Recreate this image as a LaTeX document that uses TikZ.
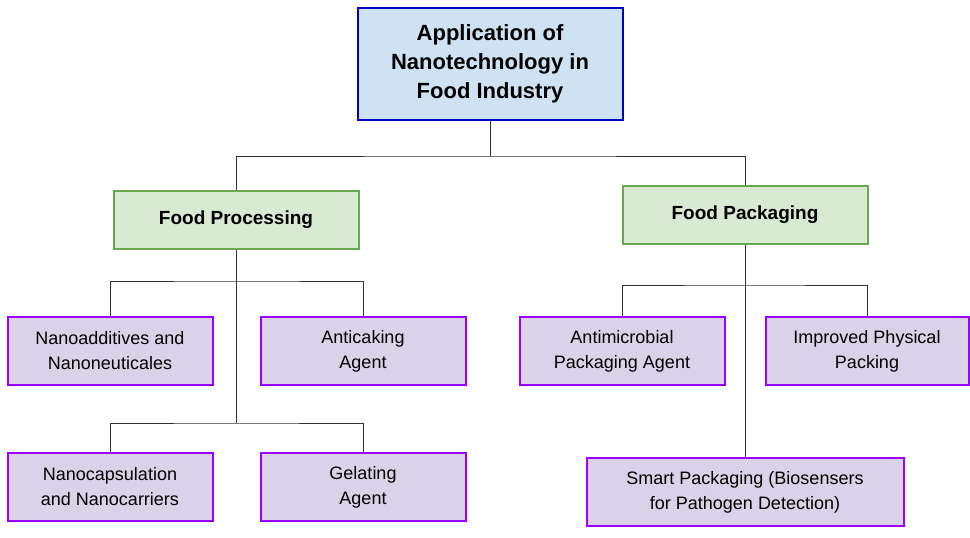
\documentclass[tikz,border=0pt]{standalone}
\usepackage{fontspec}
\setmainfont{Liberation Sans}
\usetikzlibrary{positioning, calc}

\definecolor{rootfill}{HTML}{CFE2F3}
\definecolor{rootdraw}{HTML}{0000CC}
\definecolor{midfill}{HTML}{D9EAD3}
\definecolor{middraw}{HTML}{6AA84F}
\definecolor{leaffill}{HTML}{D9D2E9}
\definecolor{leafdraw}{HTML}{9900FF}

\begin{document}
\begin{tikzpicture}[
    x=1pt, y=-1pt,
    root/.style={rectangle, draw=rootdraw, fill=rootfill, line width=2pt, minimum width=265pt, minimum height=112pt, align=center, font=\fontsize{22}{29}\selectfont\bfseries},
    mid/.style={rectangle, draw=middraw, fill=midfill, line width=2pt, minimum width=245pt, minimum height=58pt, align=center, font=\fontsize{19}{23}\selectfont\bfseries},
    leaf/.style={rectangle, draw=leafdraw, fill=leaffill, line width=2pt, minimum width=205pt, minimum height=68pt, align=center, font=\fontsize{18}{25}\selectfont},
    link/.style={draw=black!80, line width=0.8pt},
]
\useasboundingbox (0,0) rectangle (970,538);

% Nodes
\node [root] (app) at (490,64) {Application of\\Nanotechnology in\\Food Industry};
\node [mid] (proc) at (236,220) {Food Processing};
\node [mid] (pack) at (745,215) {Food Packaging};
\node [leaf] (nanoadd) at (110,351) {Nanoadditives and\\Nanoneuticales};
\node [leaf] (antick) at (363,351) {Anticaking\\Agent};
\node [leaf] (nanocap) at (110,487) {Nanocapsulation\\and Nanocarriers};
\node [leaf] (gel) at (363,487) {Gelating\\Agent};
\node [leaf] (antimic) at (622,351) {Antimicrobial\\Packaging Agent};
\node [leaf, minimum width=203pt] (improved) at (867,351) {Improved Physical\\Packing};
\node [leaf, minimum width=317pt] (smart) at (745,492) {Smart Packaging (Biosensers\\for Pathogen Detection)};

\coordinate (split1) at (490,156);
\coordinate (split2) at (236,281);
\coordinate (split3) at (236,423);
\coordinate (split4) at (745,285);

% Lines
\draw [link] (app) -- (split1);
\draw [link] (proc.north) |- (split1) -| (pack.north);
\draw [link] (proc) -- (split3);
\draw [link] (nanoadd.north) |- (split2) -| (antick.north);
\draw [link] (nanocap.north) |- (split3) -| (gel.north);
\draw [link] (pack) -- (smart);
\draw [link] (antimic.north) |- (split4) -| (improved.north);

\end{tikzpicture}
\end{document}
